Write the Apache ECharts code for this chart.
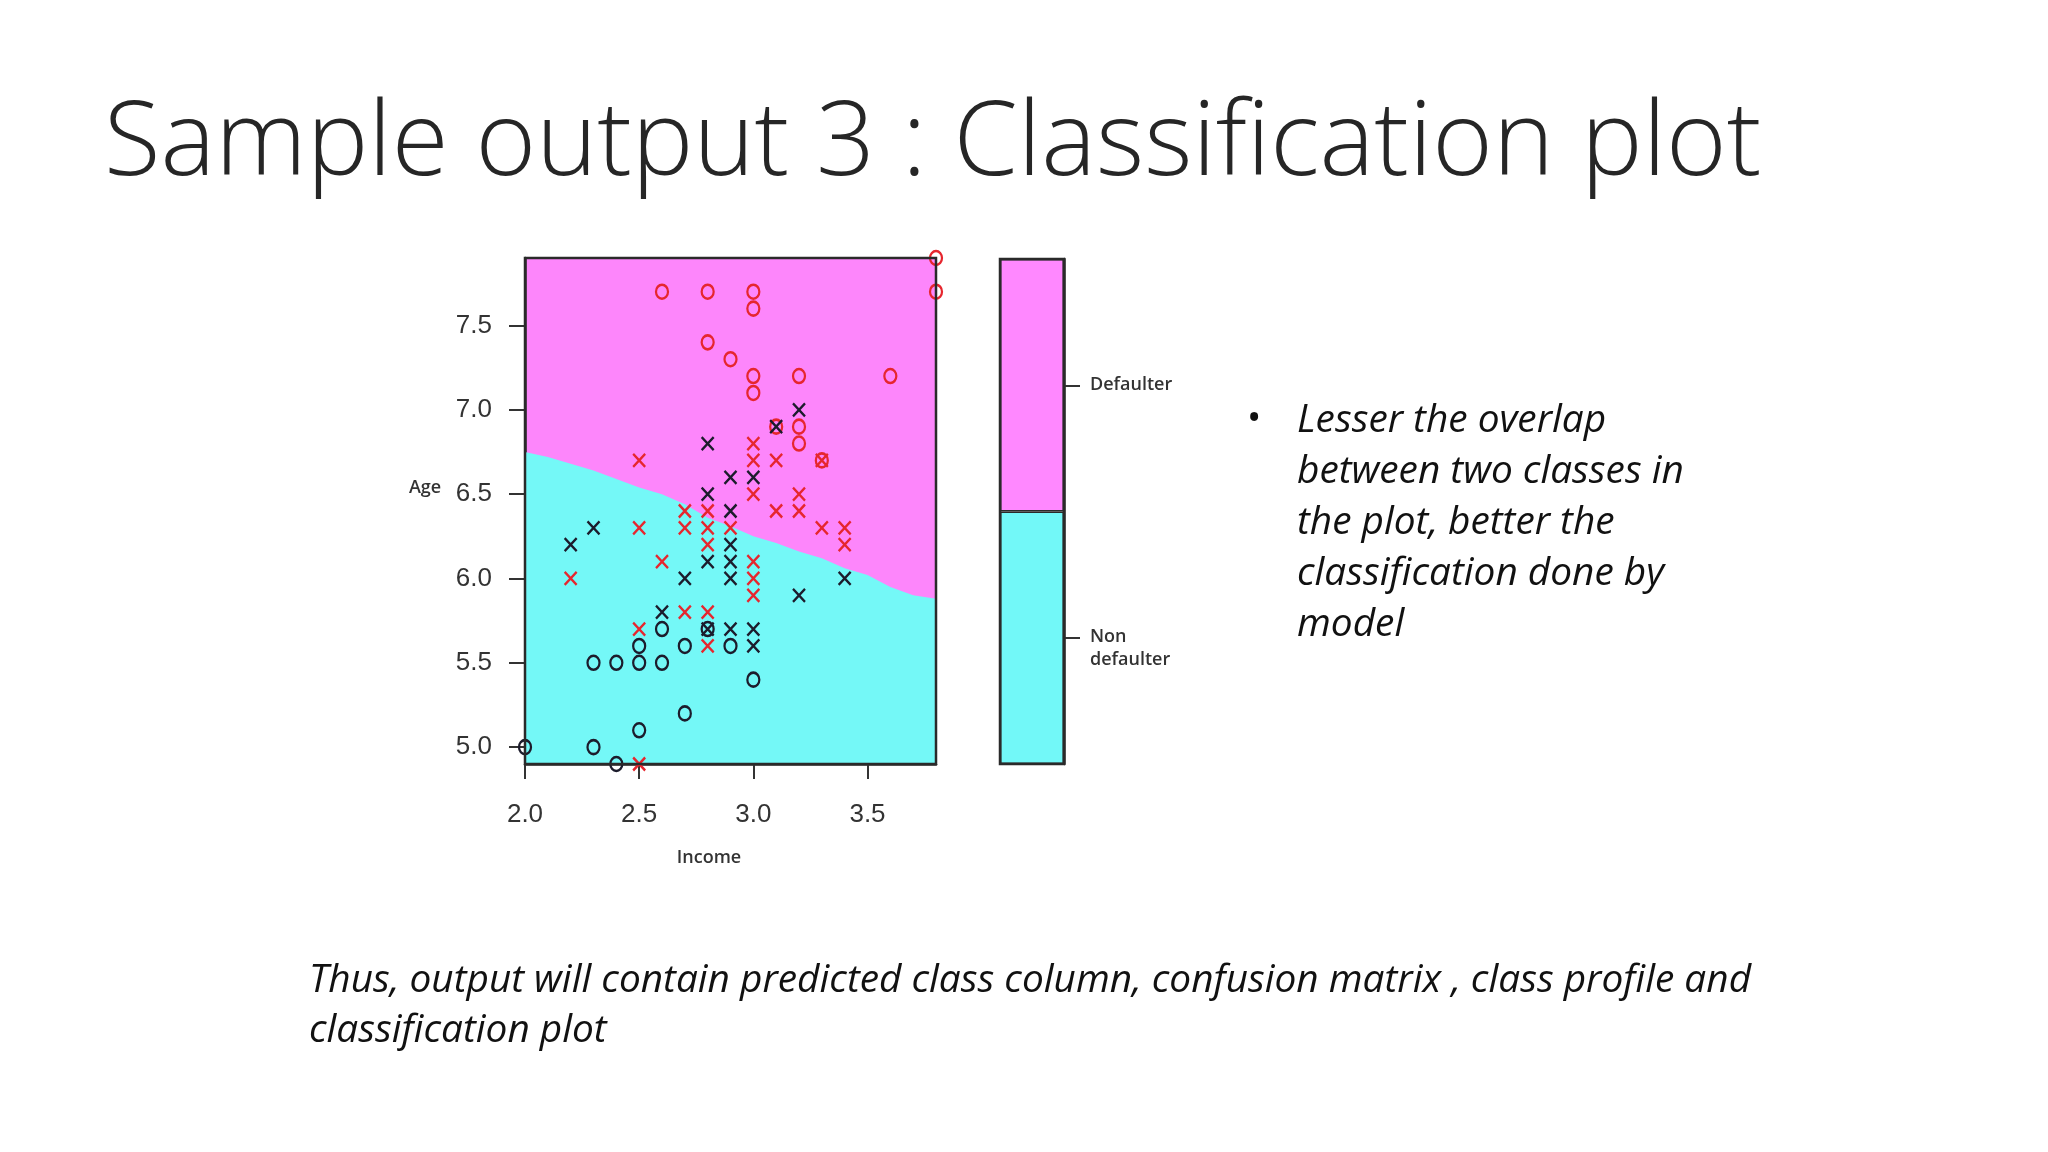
<!DOCTYPE html>
<html><head><meta charset="utf-8">
<script src="https://cdn.jsdelivr.net/npm/echarts@6/dist/echarts.min.js"></script>
<style>html,body{margin:0;padding:0;background:#fff}#c{width:2048px;height:1152px}</style>
</head><body><div id="c"></div>
<script>
// ---- text ----
const titleText = 'Sample output 3 : Classification plot';
const bulletLines = ['Lesser the overlap', 'between two classes in', 'the plot, better the', 'classification done by', 'model'];
const footerLines = ['Thus, output will contain predicted class column, confusion matrix , class profile and', 'classification plot'];
const xAxisName = 'Income';
const yAxisName = 'Age';

// ---- axes ----
const xTicks = [2.0, 2.5, 3.0, 3.5];
const yTicks = [5.0, 5.5, 6.0, 6.5, 7.0, 7.5];

// ---- decision boundary (top edge of the cyan region) ----
const boundaryIncome = [2.0, 2.1, 2.2, 2.3, 2.4, 2.5, 2.6, 2.7, 2.8, 2.9, 3.0, 3.1, 3.2, 3.3, 3.4, 3.5, 3.6, 3.7, 3.8];
const boundaryAge    = [6.75, 6.72, 6.68, 6.64, 6.59, 6.54, 6.50, 6.44, 6.36, 6.31, 6.25, 6.21, 6.16, 6.12, 6.06, 6.02, 5.95, 5.90, 5.88];

// ---- points [income, age] ----
const redO = [[2.6,7.7],[2.8,7.7],[3.0,7.7],[3.0,7.6],[3.8,7.7],[3.8,7.9],[2.8,7.4],[2.9,7.3],[3.0,7.2],[3.0,7.1],
  [3.2,7.2],[3.6,7.2],[3.1,6.9],[3.2,6.9],[3.2,6.8],[3.3,6.7]];
const redX = [[3.0,6.8],[2.5,6.7],[3.0,6.7],[3.1,6.7],[3.3,6.7],[3.0,6.5],[3.2,6.5],[2.7,6.4],[2.8,6.4],[3.1,6.4],
  [3.2,6.4],[2.5,6.3],[2.7,6.3],[2.8,6.3],[2.9,6.3],[3.3,6.3],[3.4,6.3],[2.8,6.2],[3.4,6.2],[2.6,6.1],[3.0,6.1],
  [2.2,6.0],[3.0,6.0],[3.0,5.9],[2.7,5.8],[2.8,5.8],[2.5,5.7],[2.8,5.6],[2.5,4.9]];
const blackO = [[2.6,5.7],[2.8,5.7],[2.5,5.6],[2.7,5.6],[2.9,5.6],[2.3,5.5],[2.4,5.5],[2.5,5.5],[2.6,5.5],[3.0,5.4],
  [2.7,5.2],[2.5,5.1],[2.0,5.0],[2.3,5.0],[2.4,4.9]];
const blackX = [[3.2,7.0],[3.1,6.9],[2.8,6.8],[2.9,6.6],[3.0,6.6],[2.8,6.5],[2.9,6.4],[2.3,6.3],[2.2,6.2],[2.9,6.2],
  [2.8,6.1],[2.9,6.1],[2.7,6.0],[2.9,6.0],[3.4,6.0],[3.2,5.9],[2.6,5.8],[2.8,5.7],[2.9,5.7],[3.0,5.7],[3.0,5.6]];

// ---- legend bar (bottom class first) ----
const legendClasses = ['Non\ndefaulter', 'Defaulter'];
const legendValues = [1, 1];
const legendTicks = [0.5, 1.5];

// ---- styles ----
const PINK = '#fd86fb', CYAN = '#74f8f7', RED = '#e6262e', BLACK = '#1c1c2c', AXIS = '#333';
const LEG_COLORS = ['#72f8f8', '#ff88ff'];
const PLOT = {left: 525, top: 258, width: 411, height: 506};
const LEG = {left: 1000, top: 259, width: 64, height: 505};
const O_SYM = 'circle';
const X_SYM = 'path://M0,0L10,12M10,0L0,12';

function pointSeries(name, data, sym, color, size) {
  return {
    name, type: 'scatter', xAxisIndex: 0, yAxisIndex: 0, data, symbol: sym,
    symbolSize: size, z: 5, silent: true,
    itemStyle: {color: 'rgba(0,0,0,0)', borderColor: color, borderWidth: 2.4, opacity: 1}
  };
}

const tickFont = {fontFamily: 'Liberation Sans', fontSize: 26, color: AXIS};
const bodyFont = 'italic 38.8px "Open Sans"';

const graphics = [];
graphics.push({type: 'text', x: 104, y: 146, z: 10,
  style: {text: titleText, font: '300 103.5px "Open Sans"', fill: '#262626', align: 'left', verticalAlign: 'middle'}});
graphics.push({type: 'text', x: 1247, y: 420.5, z: 10,
  style: {text: '\u2022', font: '38px "Open Sans"', fill: '#111', align: 'left', verticalAlign: 'middle'}});
bulletLines.forEach((t, i) => graphics.push({type: 'text', x: 1297, y: 420.5 + i * 51, z: 10,
  style: {text: t, font: bodyFont, fill: '#111', align: 'left', verticalAlign: 'middle'}}));
footerLines.forEach((t, i) => graphics.push({type: 'text', x: 309, y: 980.5 + i * 50, z: 10,
  style: {text: t, font: bodyFont, fill: '#111', align: 'left', verticalAlign: 'middle'}}));
graphics.push({type: 'text', x: 425, y: 488, z: 10,
  style: {text: yAxisName, font: '600 18px "Open Sans"', fill: AXIS, align: 'center', verticalAlign: 'middle'}});
graphics.push({type: 'text', x: 709, y: 858, z: 10,
  style: {text: xAxisName, font: '600 18px "Open Sans"', fill: AXIS, align: 'center', verticalAlign: 'middle'}});
graphics.push({type: 'rect', z: 20, silent: true, shape: {x: PLOT.left, y: PLOT.top, width: PLOT.width, height: PLOT.height},
  style: {fill: 'none', stroke: '#2a2a2a', lineWidth: 2.5}});
graphics.push({type: 'rect', z: 20, silent: true, shape: {x: LEG.left, y: LEG.top, width: LEG.width, height: LEG.height},
  style: {fill: 'none', stroke: '#2a2a2a', lineWidth: 2.5}});

const option = {
  backgroundColor: '#ffffff',
  animation: false,
  grid: [
    Object.assign({show: true, backgroundColor: PINK, borderWidth: 0, containLabel: false}, PLOT),
    Object.assign({show: false, containLabel: false}, LEG)
  ],
  xAxis: [
    {type: 'value', gridIndex: 0, min: 2.0, max: 3.8, splitLine: {show: false},
     axisLine: {show: true, lineStyle: {color: '#2a2a2a', width: 2.5}},
     axisTick: {show: true, customValues: xTicks, length: 15, lineStyle: {color: AXIS, width: 2}},
     axisLabel: Object.assign({customValues: xTicks, margin: 38, formatter: v => v.toFixed(1)}, tickFont)},
    {type: 'category', gridIndex: 1, data: ['class'], show: false}
  ],
  yAxis: [
    {type: 'value', gridIndex: 0, min: 4.9, max: 7.9, splitLine: {show: false},
     axisLine: {show: true, lineStyle: {color: '#2a2a2a', width: 2.5}},
     axisTick: {show: true, customValues: yTicks, length: 16, lineStyle: {color: AXIS, width: 2}},
     axisLabel: Object.assign({customValues: yTicks, margin: 33, formatter: v => v.toFixed(1)}, tickFont)},
    {type: 'value', gridIndex: 1, position: 'right', min: 0, max: 2, splitLine: {show: false},
     axisLine: {show: true, lineStyle: {color: '#2a2a2a', width: 2.5}},
     axisTick: {show: true, customValues: legendTicks, length: 16, lineStyle: {color: AXIS, width: 2}},
     axisLabel: {customValues: legendTicks, formatter: v => legendClasses[Math.floor(v)],
       margin: 26, fontFamily: 'Open Sans', fontWeight: 600, fontSize: 18, color: AXIS,
       align: 'left', verticalAlign: 'top', lineHeight: 23, padding: [-12, 0, 0, 0]}}
  ],
  graphic: graphics,
  series: [
    {type: 'line', xAxisIndex: 0, yAxisIndex: 0, data: boundaryIncome.map((x, i) => [x, boundaryAge[i]]),
     showSymbol: false, silent: true, z: 1, lineStyle: {width: 0, color: CYAN},
     areaStyle: {color: CYAN, opacity: 1, origin: 'start'}},
    pointSeries('redO', redO, O_SYM, RED, [12, 14]),
    pointSeries('blackO', blackO, O_SYM, BLACK, [12, 14]),
    pointSeries('redX', redX, X_SYM, RED, [12, 13]),
    pointSeries('blackX', blackX, X_SYM, BLACK, [12, 13])
  ].concat(legendValues.map((v, i) => ({
    type: 'bar', name: legendClasses[i], xAxisIndex: 1, yAxisIndex: 1, stack: 'legend', barWidth: '100%', silent: true,
    data: [v], itemStyle: {color: LEG_COLORS[i], borderColor: '#2a2a2a', borderWidth: 1.5}
  })))
};
const chart = echarts.init(document.getElementById('c'), null, {renderer: 'canvas'});
chart.setOption(option);
</script>
</body></html>
